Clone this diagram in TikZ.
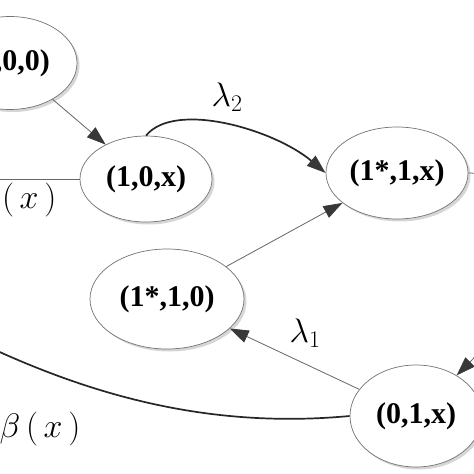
\RequirePackage{fix-cm}
\documentclass[tikz,border=0pt]{standalone}
\usepackage{fontspec}
\setmainfont{Liberation Serif}
\usetikzlibrary{shapes.geometric,arrows.meta,shadows}
\begin{document}
\begin{tikzpicture}[x=1pt,y=-1pt,
  statebox/.style={ellipse, draw=black!55, line width=0.7pt, fill=white, inner sep=0pt,
    font=\fontsize{30}{32}\selectfont\bfseries,
    drop shadow={shadow xshift=2.5pt, shadow yshift=-2.5pt, fill=black!45, opacity=0.35}},
  tipstyle/.style={-{Triangle[length=19pt,width=13pt,color=black!78]}},
  graylink/.style={draw=black!60, line width=0.8pt},
  darklink/.style={draw=black!85, line width=1.7pt},
  lab/.style={inner sep=0pt, font=\fontsize{34}{36}\selectfont}]
\useasboundingbox (0,0) rectangle (474,474);
\clip (0,0) rectangle (474,474);
\fill[white] (0,0) rectangle (474,474);

\node[statebox, minimum width=134pt, minimum height=93pt] (n00) at (10,63) {(0,0,0)};
\node[statebox, minimum width=132pt, minimum height=86pt] (n10x) at (146,179) {(1,0,x)};
\node[statebox, minimum width=142pt, minimum height=92pt] (n11x) at (397,173) {(1*,1,x)};
\node[statebox, minimum width=154pt, minimum height=100pt] (n110) at (167,299) {(1*,1,0)};
\node[statebox, minimum width=132pt, minimum height=102pt] (n01x) at (416,416) {(0,1,x)};

\node[lab] (l2) at (227,97) {$\lambda_2$};
\node[lab] (l1) at (305,333) {$\lambda_1$};
\node[lab] (b1) at (16,200) {$\beta\,\bigl(\,x\,\bigr)$};
\node[lab] (b2) at (40,429) {$\beta\,\bigl(\,x\,\bigr)$};

\coordinate (offL1) at (-30,179);
\coordinate (offL2) at (-20,343);

\draw[graylink, tipstyle] (n00) -- (n10x);
\draw[darklink, tipstyle] (n10x.north) .. controls (175,100) and (275,130) .. (n11x.west);
\draw[graylink, tipstyle] (n110) -- (n11x);
\draw[graylink, tipstyle] (n01x) -- (n110);
\draw[graylink] (n10x.west) -- (offL1);
\draw[darklink] (n01x.west) .. controls (200,430) and (80,390) .. (offL2);
\draw[graylink, tipstyle] (n11x.east) to[out=0, in=45] (n01x);
\end{tikzpicture}
\end{document}
